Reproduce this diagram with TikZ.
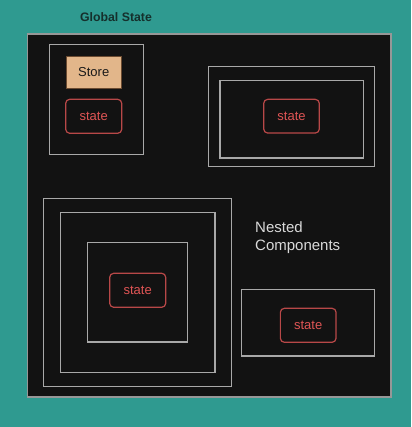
\documentclass[tikz,border=0pt]{standalone}
\usepackage{fontspec}
\setmainfont{Liberation Sans}
\definecolor{teal0}{HTML}{2F9A90}
\definecolor{panel}{HTML}{121212}
\definecolor{frame}{HTML}{A8A8A8}
\definecolor{statec}{HTML}{B84848}
\definecolor{statet}{HTML}{E05555}
\definecolor{storef}{HTML}{E2B68A}
\definecolor{stored}{HTML}{6A4A30}
\definecolor{titlec}{HTML}{15302C}
\begin{document}
\begin{tikzpicture}[x=1pt,y=-1pt,
  comp/.style={draw=frame,line width=1.3pt},
  statebox/.style={draw=statec,line width=1.2pt,rounded corners=4pt,text=statet,font=\fontsize{13}{15}\selectfont,
    minimum width=56pt,minimum height=34pt,inner sep=0pt},
  storebox/.style={fill=storef,draw=stored,line width=0.8pt,text=black!90,font=\fontsize{13}{15}\selectfont,
    minimum width=55.3pt,minimum height=32.7pt,inner sep=0pt}]
\useasboundingbox (0,0) rectangle (411,427);
\fill[teal0] (0,0) rectangle (411,427);
\node[font=\bfseries\fontsize{12.3}{14}\selectfont,text=titlec] (title) at (116,17.5) {Global State};
\draw[fill=panel,draw=frame!120,line width=1.5pt] (27.5,34) rectangle (391,397);
% top-left component
\draw[comp] (49.5,44.5) rectangle (143.3,154.7);
\node[storebox] (store) at (93.7,72.3) {Store};
\node[statebox] (s1) at (93.7,116.3) {state};
% top-right
\draw[comp] (208.3,66.3) rectangle (374.3,166.3);
\draw[comp] (220,80.3) rectangle (363.3,158);
\node[statebox,minimum width=55.6pt,minimum height=33.7pt] (s2) at (291.5,116.2) {state};
% nested components text
\node[anchor=north west,align=left,text=white!85!black,font=\fontsize{15}{18}\selectfont,inner sep=0pt] (nc) at (255,221.5) {Nested\\Components};
% bottom-left nested
\draw[comp] (43.3,198.3) rectangle (231.7,386.3);
\draw[comp] (60.3,212.7) rectangle (215,372.3);
\draw[comp] (87.7,242.3) rectangle (187.3,342);
\node[statebox] (s3) at (137.7,290.3) {state};
% bottom-right
\draw[comp] (241.7,289.3) rectangle (374.3,356);
\node[statebox,minimum width=55.7pt] (s4) at (308.2,325.3) {state};
\end{tikzpicture}
\end{document}
